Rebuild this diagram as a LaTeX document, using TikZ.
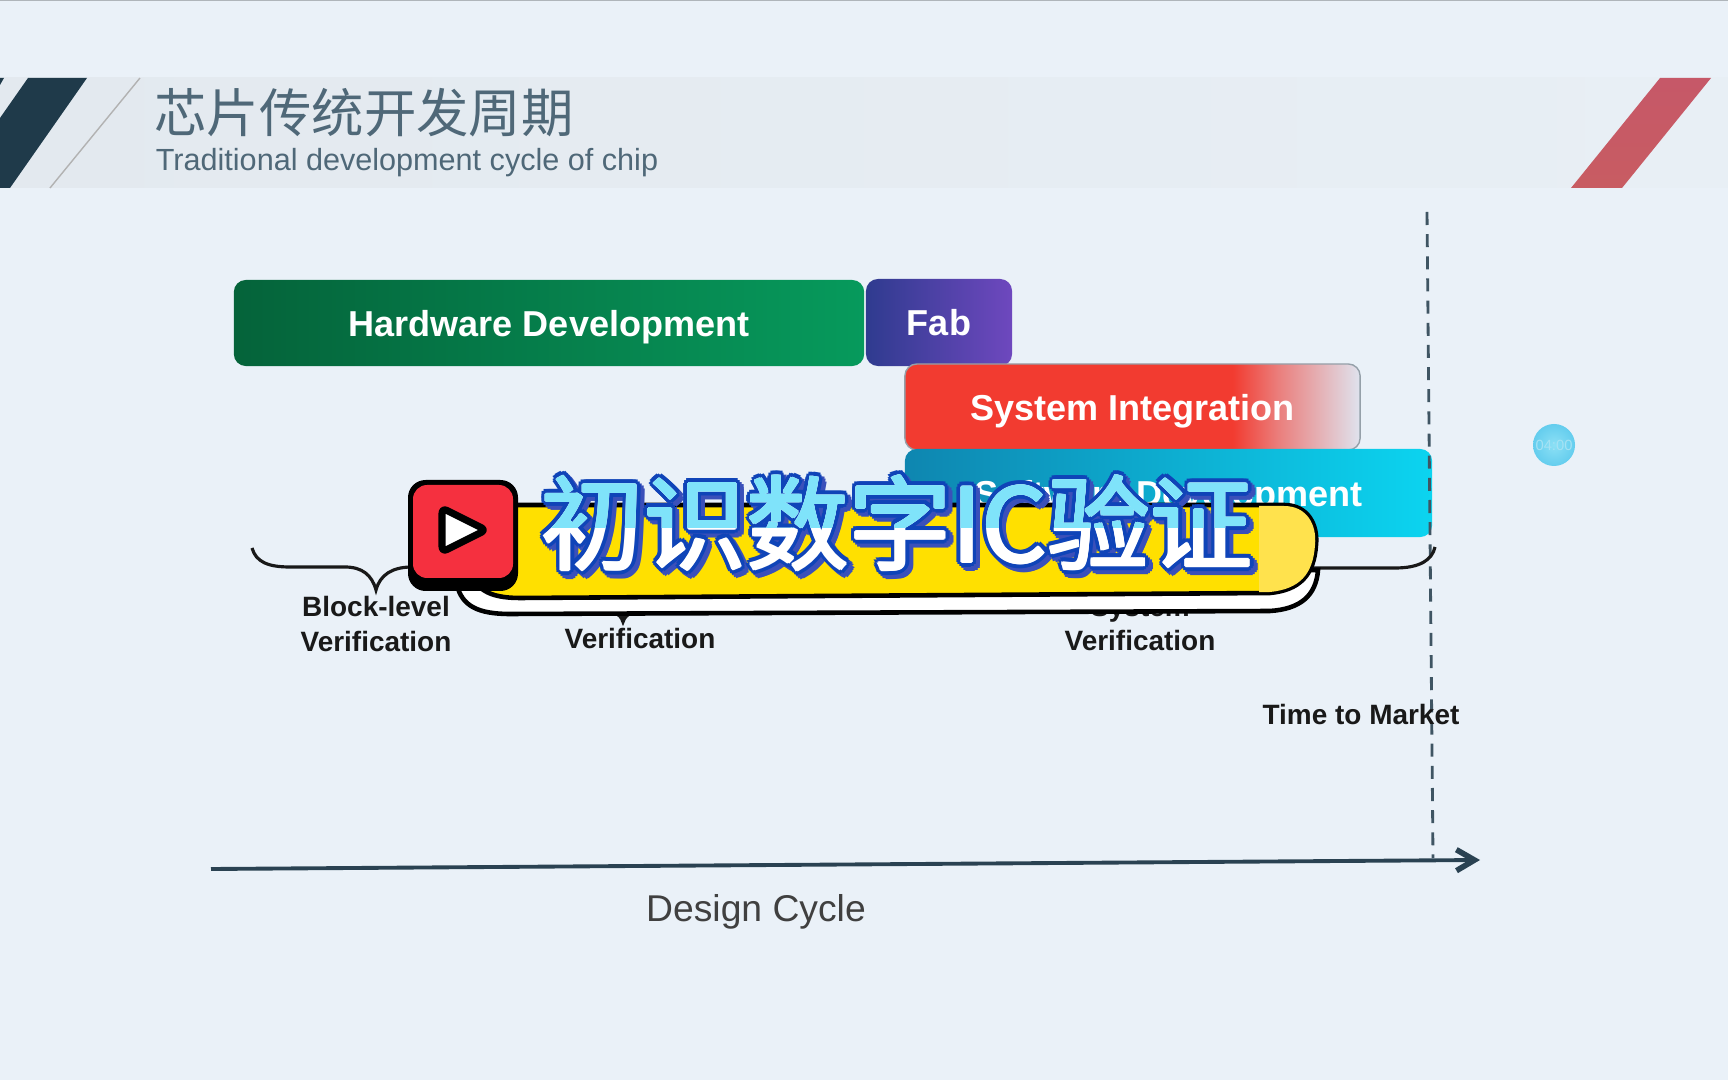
\documentclass[tikz,border=0pt]{standalone}
\usepackage{fontspec}
\setmainfont{Liberation Sans}
\newfontfamily\cjk{Noto Sans CJK SC}
\usetikzlibrary{arrows.meta}

\definecolor{pagebg}{HTML}{EAF1F8}
\definecolor{slashdark}{HTML}{1F3A4A}
\definecolor{titlegray}{HTML}{4F6878}
\definecolor{axisgray}{HTML}{2A4252}
\definecolor{sysred}{HTML}{F23B30}
\definecolor{sysfaded}{HTML}{DFE3EE}
\definecolor{outlineblue}{HTML}{0F44B8}
\definecolor{shadowblue}{HTML}{3A50BA}
\definecolor{topcyan}{HTML}{7FE3FA}
\definecolor{playred}{HTML}{F5303F}
\definecolor{bannerlight}{HTML}{FFE24D}

\pgfdeclarehorizontalshading{sysfade}{100bp}{color(0bp)=(sysred); color(61bp)=(sysred); color(66bp)=(sysred!60!sysfaded); color(75bp)=(sysfaded); color(100bp)=(sysfaded)}

\tikzset{
  phasebox/.style={rounded corners=3.4pt, text=white, font=\fontsize{10.25}{12}\selectfont\bfseries, inner sep=0pt, text height=7.4pt, text depth=0pt},
  verlabel/.style={align=center, text=black!90, font=\fontsize{7.95}{9.7}\selectfont\bfseries},
  bracecurve/.style={line width=0.9pt, black!90},
  bigtitle/.style={font=\fontsize{29.2}{30}\selectfont\cjk, inner sep=0pt},
}
\newcommand{\bannertext}{初识数字IC验证}

\begin{document}
\begin{tikzpicture}[x=0.01cm,y=-0.01cm]
  \useasboundingbox (0,0) rectangle (1728,1080);
  \fill[pagebg] (0,0) rectangle (1728,1080);
  \fill[black!25!pagebg] (0,0) rectangle (1728,1.5);

  % 标题栏
  \shade[left color={rgb,255:red,227;green,233;blue,239}, right color={rgb,255:red,232;green,239;blue,245}] (0,78) rectangle (1728,188);
  \fill[slashdark] (28,78) -- (87,78) -- (10,188) -- (0,188) -- (0,118) -- cycle;
  \fill[slashdark] (0,78) -- (4,78) -- (0,85) -- cycle;
  \draw[black!30, line width=0.4pt] (140,78) -- (50,188);
  \shade[top color={rgb,255:red,198;green,88;blue,104}, middle color={rgb,255:red,217;green,102;blue,95}, bottom color={rgb,255:red,200;green,92;blue,98}] (1660,78) -- (1711,78) -- (1622,188) -- (1571,188) -- cycle;
  \node[text=titlegray, inner sep=0pt, font=\fontsize{14.9}{16}\selectfont\cjk] (titlecn) at (364,113) {芯片传统开发周期};
  \node[text=titlegray, inner sep=0pt, font=\fontsize{8.7}{11}\selectfont] (titleen) at (407,163) {Traditional development cycle of chip};

  % 开发阶段
  \node[phasebox, left color={rgb,255:red,5;green,99;blue,58}, right color={rgb,255:red,6;green,154;blue,92}, minimum width=6.3cm, minimum height=0.86cm] (hardware) at (549,323) {Hardware Development};
  \node[phasebox, left color={rgb,255:red,47;green,59;blue,143}, right color={rgb,255:red,110;green,72;blue,190}, minimum width=1.46cm, minimum height=0.87cm] (fab) at (939,322.5) {Fab};
  \node[phasebox, draw=axisgray!50, shading=sysfade, minimum width=4.55cm, minimum height=0.86cm] (sysint) at (1132.5,407) {System Integration};
  \node[phasebox, left color={rgb,255:red,14;green,134;blue,176}, right color={rgb,255:red,12;green,212;blue,240}, minimum width=5.27cm, minimum height=0.88cm] (software) at (1168.5,493) {Software Development};

  % 时间线
  \coordinate (marketTop) at (1427,212);
  \coordinate (marketEnd) at (1433,858);
  \draw[axisgray!90, line width=0.8pt, dash pattern=on 3.7pt off 2.6pt] (marketTop) -- (marketEnd);
  \coordinate (axisStart) at (211,869);
  \coordinate (axisEnd) at (1480,860);
  \draw[axisgray, line width=1.1pt, -{Straight Barb[length=1.8mm,width=2.1mm,line width=1.6pt]}] (axisStart) -- (axisEnd);
  \node[text=black!75, inner sep=0pt, font=\fontsize{10.6}{12}\selectfont] (designcycle) at (756,912) {Design Cycle};
  \node[text=black!90, inner sep=0pt, font=\fontsize{7.95}{10}\selectfont\bfseries] (ttm) at (1361,715) {Time to Market};

  % 花括号
  \draw[bracecurve] (252,548) .. controls (256,562) and (268,567) .. (290,567) -- (345,567) .. controls (362,567) and (372,575) .. (376,590) .. controls (380,575) and (392,567) .. (412,567) -- (440,567);
  \draw[bracecurve] (460,592) .. controls (470,610) and (480,612) .. (500,612) -- (600,612) .. controls (612,612) and (620,612) .. (623,622) .. controls (626,612) and (634,612) .. (650,612) -- (900,612);
  \draw[bracecurve] (1300,568) -- (1395,568) .. controls (1420,568) and (1432,560) .. (1435,547);
  \node[verlabel] (blocklabel) at (376,624) {Block-level\\Verification};
  \node[verlabel] (chiplabel) at (640,621) {Chip-level\\Verification};
  \node[verlabel] (systemlabel) at (1140,624) {System\\Verification};

  % 计时小球
  \shade[inner color={rgb,255:red,140;green,224;blue,245}, outer color={rgb,255:red,100;green,205;blue,238}] (1554,445) circle [radius=21];
  \node[text={rgb,255:red,165;green,226;blue,244}, inner sep=0pt, font=\fontsize{4.2}{5}\selectfont] (timer) at (1554,445) {04:00};

  % 黄色横幅
  \draw[black, line width=1.3pt, fill=white] (457,585) .. controls (462,606) and (478,614) .. (510,614) -- (1270,611) .. controls (1300,609) and (1316,596) .. (1318,570) -- cycle;
  \draw[black, line width=1.3pt, fill={rgb,255:red,255;green,224;blue,0}] (500,505) -- (1284,505) .. controls (1308,505) and (1318,525) .. (1316,545) .. controls (1314,575) and (1300,590) .. (1270,593) -- (520,598) .. controls (490,598) and (470,590) .. (470,560) -- (470,505) -- cycle;
  \begin{scope}
    \clip (1259,500) rectangle (1330,600);
    \path[fill=bannerlight] (500,506) -- (1284,506) .. controls (1307,506) and (1317,525) .. (1315,545) .. controls (1313,575) and (1299,589) .. (1270,592) -- (520,597) -- cycle;
  \end{scope}

  % 播放按钮
  \fill[black, rounded corners=5pt] (408,480) rectangle (518,591);
  \fill[playred, rounded corners=4pt] (413,485) rectangle (513,578);
  \draw[black, fill=white, line width=2pt, line join=round, rounded corners=1.5pt] (442,508) -- (486,530) -- (442,552) -- cycle;

  % 大标题
  \foreach \a in {0,30,...,330} {
    \node[bigtitle, text=shadowblue] (shadow\a) at ([shift={(\a:5)}] 901,527) {\bannertext};
  }
  \foreach \a in {0,30,...,330} {
    \node[bigtitle, text=outlineblue] (rim\a) at ([shift={(\a:5)}] 897,523) {\bannertext};
  }
  \foreach \a in {0,60,...,300} {
    \node[bigtitle, text=white] (low\a) at ([shift={(\a:1.4)}] 897,523) {\bannertext};
  }
  \begin{scope}
    \clip (500,460) rectangle (1280,528);
    \foreach \a in {0,60,...,300} {
      \node[bigtitle, text=topcyan] (high\a) at ([shift={(\a:1.4)}] 897,523) {\bannertext};
    }
  \end{scope}
\end{tikzpicture}
\end{document}
